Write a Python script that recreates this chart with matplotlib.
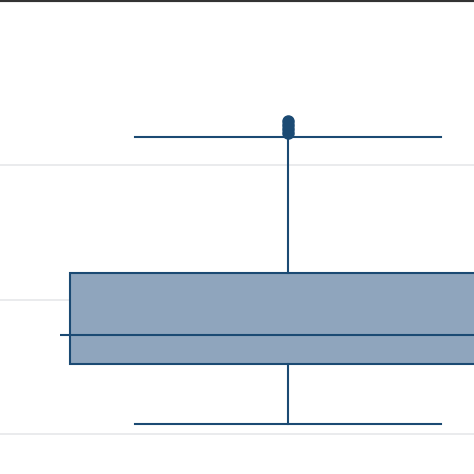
import matplotlib
matplotlib.use('Agg')
import matplotlib.pyplot as plt

# box statistics (grid lines at 0, 1, 2)
q1, med, q3 = 0.52, 0.736, 1.197
whislo, whishi = 0.074, 2.208
fliers = [2.24, 2.27, 2.30, 2.33]
grid_vals = [0, 1, 2]

edge = '#1b4a73'
fig = plt.figure(figsize=(4.74, 4.74), dpi=100)
ax = fig.add_axes([0, 0, 1, 1])

stats = [dict(med=med, q1=q1, q3=q3, whislo=whislo, whishi=whishi, fliers=fliers)]
ax.bxp(stats, positions=[0], widths=1.0, capwidths=[0.70], patch_artist=True,
       boxprops=dict(facecolor='#8fa5bd', edgecolor=edge, linewidth=1.5),
       whiskerprops=dict(color=edge, linewidth=1.5),
       capprops=dict(color=edge, linewidth=1.5),
       medianprops=dict(linewidth=0),
       flierprops=dict(marker='o', markersize=8, markerfacecolor=edge,
                       markeredgecolor=edge))
ax.hlines(med, -0.523, 0.6, color=edge, linewidth=1.5, zorder=3)

for g in grid_vals:
    ax.axhline(g, color='#e6e8ea', linewidth=1.2, zorder=0)

ax.set_xlim(-0.6606, 0.4266)
ax.set_ylim(-0.297, 3.227)
ax.set_xticks([]); ax.set_yticks([])
for s in ['left', 'right', 'bottom']:
    ax.spines[s].set_visible(False)
ax.spines['top'].set_color('#333333')
ax.spines['top'].set_linewidth(3)

fig.savefig('out.png', dpi=100)
